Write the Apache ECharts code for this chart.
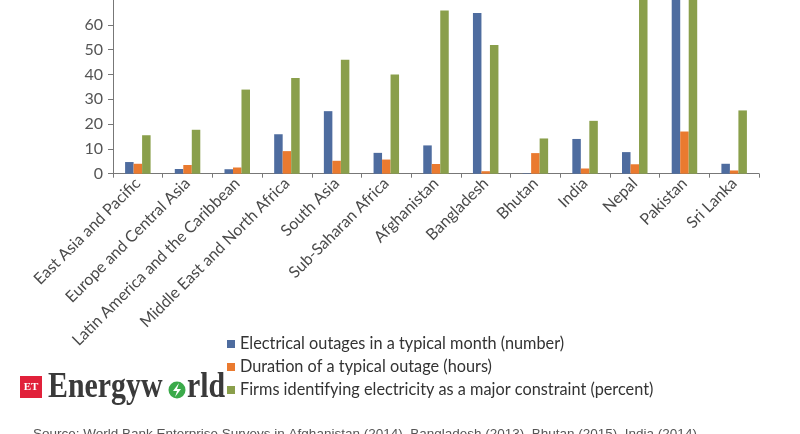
<!DOCTYPE html>
<html>
<head>
<meta charset="utf-8">
<script src="https://cdn.jsdelivr.net/npm/echarts@6/dist/echarts.min.js"></script>
<style>
html,body{margin:0;padding:0;background:#fff;}
#chart{width:800px;height:434px;}
</style>
</head>
<body>
<div id="chart"></div>
<script>
const categories = ["East Asia and Pacific","Europe and Central Asia","Latin America and the Caribbean","Middle East and North Africa","South Asia","Sub-Saharan Africa","Afghanistan","Bangladesh","Bhutan","India","Nepal","Pakistan","Sri Lanka"];
const outages = [4.7,1.9,1.8,15.9,25.2,8.4,11.4,64.8,0.2,14.0,8.7,75,4.0];
const duration = [4.0,3.5,2.5,9.1,5.2,5.7,3.9,1.0,8.3,2.1,3.8,17.0,1.3];
const firms = [15.5,17.7,33.9,38.6,45.9,40.0,65.8,51.9,14.2,21.3,76,72,25.5];
const seriesNames = ["Electrical outages in a typical month (number)","Duration of a typical outage (hours)","Firms identifying electricity as a major constraint (percent)"];
const yTicks = [0,10,20,30,40,50,60,70];
const sourceText = "Source: World Bank Enterprise Surveys in Afghanistan (2014), Bangladesh (2013), Bhutan (2015), India (2014),";

const colors = ["#4E6C9F","#EA7A2F","#8A9F4B"];
const chart = echarts.init(document.getElementById('chart'), null, {renderer:'canvas'});
const font = 'Lato';
const option = {
  animation:false,
  color: colors,
  grid:{left:113,right:41,top:-7,bottom:260.3,containLabel:false},
  legend:{
    orient:'vertical', left:222, top:331, itemWidth:8, itemHeight:8, itemGap:7,
    icon:'rect', itemStyle:{borderWidth:0},
    textStyle:{fontFamily:font,fontSize:16.3,color:'#333',lineHeight:16},
    data: seriesNames
  },
  xAxis:{
    type:'category', data:categories,
    axisLine:{lineStyle:{color:'#777',width:1}},
    axisTick:{show:true,length:4,lineStyle:{color:'#777'}},
    axisLabel:{rotate:45,margin:7,interval:0,fontFamily:font,fontSize:16,color:'#4a4a4a'}
  },
  yAxis:{
    type:'value', min:yTicks[0], max:yTicks[yTicks.length-1], interval:10,
    splitLine:{show:false},
    axisLine:{show:true,lineStyle:{color:'#777',width:1}},
    axisTick:{show:true,length:5,lineStyle:{color:'#777'}},
    axisLabel:{margin:10,fontFamily:font,fontSize:16,color:'#555',showMaxLabel:false}
  },
  series:[
    {name:seriesNames[0],type:'bar',data:outages,barWidth:8.5,barGap:'0%'},
    {name:seriesNames[1],type:'bar',data:duration,barWidth:8.5,barGap:'0%'},
    {name:seriesNames[2],type:'bar',data:firms,barWidth:8.5,barGap:'0%'}
  ],
  graphic:[
    {type:'rect',shape:{x:20,y:376,width:22,height:22},style:{fill:'#E1213A'}},
    {type:'text',x:31,y:387,style:{text:'ET',fill:'#fff',font:'bold 11px "Liberation Serif"',textAlign:'center',textVerticalAlign:'middle'}},
    {type:'text',x:48,y:388,scaleX:0.83,style:{text:'Energyw',fill:'#3a3a3a',font:'bold 36px "Liberation Serif"',textAlign:'left',textVerticalAlign:'middle'}},
    {type:'circle',shape:{cx:177,cy:390,r:8.5},style:{fill:'#3BAA4A'}},
    {type:'polygon',shape:{points:[[179,383],[173,391],[177,391],[175,397],[181,389],[177,389]]},style:{fill:'#fff'}},
    {type:'text',x:187,y:388,scaleX:0.83,style:{text:'rld',fill:'#3a3a3a',font:'bold 36px "Liberation Serif"',textAlign:'left',textVerticalAlign:'middle'}},
    {type:'text',x:33,y:427,style:{text:sourceText,fill:'#555',font:'13.5px "Liberation Sans"',textAlign:'left',textVerticalAlign:'top'}}
  ]
};
chart.setOption(option);
</script>
</body>
</html>
